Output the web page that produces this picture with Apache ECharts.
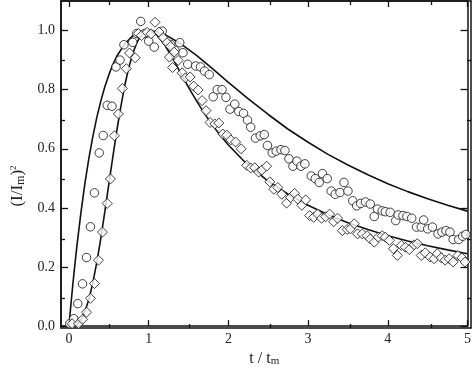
<!DOCTYPE html>
<html>
<head>
<meta charset="utf-8">
<script src="https://cdn.jsdelivr.net/npm/echarts@6/dist/echarts.min.js"></script>
<style>html,body{margin:0;padding:0;background:#fff}#c{width:474px;height:372px}</style>
</head>
<body>
<div id="c"></div>
<script>
// ---- data ----
const xTickLabels = [0, 1, 2, 3, 4, 5];
const xMinorTicks = [0.5, 1.5, 2.5, 3.5, 4.5];
const yTickLabels = [0, 0.2, 0.4, 0.6, 0.8, 1.0];
const yMinorTicks = [0.1, 0.3, 0.5, 0.7, 0.9];

// upper solid curve
const curveFast = [
  [0,0],[0.01,0.031],[0.02,0.060],[0.03,0.089],[0.05,0.145],[0.07,0.198],[0.1,0.272],[0.15,0.384],
  [0.2,0.483],[0.25,0.568],[0.3,0.642],[0.35,0.707],[0.4,0.762],[0.45,0.810],[0.5,0.850],[0.55,0.885],
  [0.6,0.913],[0.7,0.955],[0.8,0.982],[0.9,0.996],[1.0,1.000],[1.1,0.996],[1.2,0.987],[1.4,0.956],
  [1.6,0.916],[1.8,0.871],[2.0,0.825],[2.25,0.769],[2.5,0.716],[2.75,0.666],[3.0,0.622],[3.25,0.581],
  [3.5,0.545],[3.75,0.512],[4.0,0.482],[4.25,0.455],[4.5,0.431],[4.75,0.409],[5.0,0.389]
];
// lower solid curve
const curveSlow = [
  [0,0],[0.05,0.0004],[0.1,0.0065],[0.15,0.021],[0.2,0.049],[0.25,0.091],[0.3,0.147],[0.35,0.217],
  [0.4,0.298],[0.45,0.387],[0.5,0.480],[0.55,0.572],[0.6,0.661],[0.65,0.742],[0.7,0.814],[0.75,0.874],
  [0.8,0.922],[0.85,0.958],[0.9,0.982],[0.95,0.996],[1.0,1.000],[1.1,0.986],[1.2,0.952],[1.3,0.907],
  [1.4,0.857],[1.5,0.808],[1.6,0.762],[1.7,0.719],[1.8,0.680],[1.9,0.645],[2.0,0.613],[2.2,0.557],
  [2.5,0.490],[2.75,0.446],[3.0,0.409],[3.25,0.377],[3.5,0.350],[3.75,0.327],[4.0,0.306],[4.25,0.288],
  [4.5,0.272],[4.75,0.258],[5.0,0.245]
];
// circles
const circles = [
  [0.01,0.008],[0.06,0.025],[0.11,0.076],[0.17,0.143],[0.22,0.232],[0.27,0.336],[0.32,0.451],[0.38,0.586],
  [0.43,0.645],[0.48,0.747],[0.54,0.744],[0.59,0.877],[0.64,0.90],[0.69,0.952],[0.80,0.96],[0.85,0.99],
  [0.90,1.031],[0.95,0.99],[1.0,0.964],[1.07,0.944],[1.17,0.998],
  [1.275,0.953],[1.33,0.933],[1.39,0.959],[1.43,0.925],[1.49,0.886],[1.59,0.88],[1.65,0.877],[1.70,0.863],
  [1.76,0.851],[1.81,0.776],[1.86,0.80],[1.92,0.80],[1.97,0.774],[2.02,0.734],[2.08,0.751],[2.13,0.726],
  [2.19,0.72],[2.24,0.697],[2.28,0.673],[2.34,0.636],[2.40,0.644],[2.45,0.648],[2.49,0.611],[2.55,0.586],
  [2.60,0.592],[2.66,0.597],[2.71,0.594],[2.76,0.566],[2.81,0.541],[2.86,0.558],[2.91,0.541],[2.96,0.549],
  [3.04,0.508],[3.09,0.499],[3.14,0.486],[3.18,0.516],[3.24,0.499],[3.29,0.457],[3.34,0.446],[3.40,0.452],
  [3.45,0.486],[3.50,0.457],[3.56,0.424],[3.61,0.407],[3.66,0.415],[3.72,0.42],[3.78,0.413],[3.83,0.371],
  [3.87,0.396],[3.93,0.39],[3.97,0.387],[4.03,0.385],[4.10,0.357],[4.13,0.376],[4.19,0.374],[4.24,0.371],
  [4.30,0.365],[4.36,0.335],[4.42,0.335],[4.45,0.359],[4.50,0.329],[4.56,0.335],[4.63,0.312],[4.68,0.318],
  [4.73,0.323],[4.78,0.318],[4.82,0.293],[4.89,0.293],[4.94,0.304],[4.98,0.31]
];
// diamonds
const diamonds = [
  [0.04,0.008],[0.12,0.008],[0.17,0.023],[0.22,0.047],[0.27,0.094],[0.32,0.144],[0.37,0.223],[0.42,0.318],
  [0.48,0.415],[0.52,0.498],[0.57,0.644],[0.62,0.718],[0.67,0.804],[0.72,0.871],[0.76,0.924],[0.83,0.908],
  [0.87,0.99],[0.91,0.983],[0.98,0.994],[1.03,0.989],[1.08,1.028],
  [1.13,0.995],[1.18,0.976],[1.23,0.959],[1.275,0.946],[1.32,0.927],[1.26,0.91],[1.37,0.899],[1.30,0.875],
  [1.42,0.857],[1.46,0.84],[1.52,0.843],[1.565,0.812],[1.62,0.799],[1.67,0.763],[1.72,0.729],[1.77,0.689],
  [1.83,0.684],[1.88,0.687],[1.93,0.65],[1.98,0.646],[2.03,0.63],[2.09,0.623],[2.16,0.60],[2.23,0.544],
  [2.28,0.535],[2.33,0.536],[2.38,0.521],[2.42,0.528],[2.48,0.541],[2.52,0.488],[2.57,0.463],[2.62,0.469],
  [2.67,0.446],[2.73,0.416],[2.78,0.435],[2.83,0.449],[2.87,0.43],[2.92,0.409],[2.97,0.427],[3.02,0.374],
  [3.07,0.368],[3.12,0.379],[3.17,0.365],[3.22,0.37],[3.27,0.379],[3.32,0.353],[3.37,0.365],[3.43,0.323],
  [3.49,0.327],[3.53,0.329],[3.58,0.346],[3.62,0.312],[3.68,0.312],[3.74,0.306],[3.78,0.295],[3.83,0.284],
  [3.88,0.301],[3.93,0.306],[3.97,0.301],[4.02,0.29],[4.07,0.262],[4.12,0.239],[4.17,0.273],[4.22,0.267],
  [4.27,0.259],[4.33,0.275],[4.37,0.279],[4.42,0.239],[4.47,0.248],[4.53,0.234],[4.58,0.228],[4.62,0.245],
  [4.67,0.231],[4.72,0.223],[4.77,0.228],[4.82,0.217],[4.88,0.239],[4.93,0.231],[4.97,0.217]
];

// ---- chart ----
const FONT = '"Liberation Serif", "DejaVu Serif", serif';
const X_MIN = -0.1, X_MAX = 5, Y_MIN = 0, Y_MAX = 1.1;
const GRID = { left: 61, right: 3, top: 1, bottom: 44, containLabel: false };
const LINE = { show: true, onZero: false, lineStyle: { color: '#111', width: 1.5 } };
const TICKSTYLE = { color: '#111', width: 1.3 };

function xAxis(grid, pos, ticks, len, labels) {
  return {
    gridIndex: grid, type: 'value', position: pos, min: X_MIN, max: X_MAX,
    axisLine: LINE, splitLine: { show: false },
    axisTick: { show: true, inside: true, length: len, customValues: ticks, lineStyle: TICKSTYLE },
    axisLabel: labels ? { show: true, customValues: ticks, margin: 6, fontFamily: FONT, fontSize: 14, color: '#222' } : { show: false },
    name: labels ? 't / t{sub|m}' : '',
    nameLocation: 'middle', nameGap: 15,
    nameTextStyle: { fontFamily: FONT, fontSize: 16, color: '#222',
      rich: { sub: { fontFamily: FONT, fontSize: 11, color: '#222', lineHeight: 11, verticalAlign: 'bottom' } } }
  };
}
function yAxis(grid, pos, ticks, len, labels) {
  return {
    gridIndex: grid, type: 'value', position: pos, min: Y_MIN, max: Y_MAX,
    axisLine: LINE, splitLine: { show: false },
    axisTick: { show: true, inside: true, length: len, customValues: ticks, lineStyle: TICKSTYLE },
    axisLabel: labels ? { show: true, customValues: ticks, margin: 6, fontFamily: FONT, fontSize: 14, color: '#222',
      formatter: v => v.toFixed(1) } : { show: false }
  };
}

const chart = echarts.init(document.getElementById('c'), null, { renderer: 'canvas' });
chart.setOption({
  animation: false,
  backgroundColor: '#fff',
  grid: [GRID, GRID],
  xAxis: [
    xAxis(0, 'bottom', xTickLabels, 6, true),
    xAxis(0, 'top', xTickLabels, 6, false),
    xAxis(1, 'bottom', xMinorTicks, 4, false),
    xAxis(1, 'top', xMinorTicks, 4, false)
  ],
  yAxis: [
    yAxis(0, 'left', yTickLabels, 7, true),
    yAxis(0, 'right', yTickLabels, 7, false),
    yAxis(1, 'left', yMinorTicks, 4, false),
    yAxis(1, 'right', yMinorTicks, 4, false)
  ],
  graphic: [{
    type: 'text', x: 18, y: 186, rotation: Math.PI / 2,
    style: {
      text: '(I/I{sub|m}){sup|2}', align: 'center', verticalAlign: 'middle',
      fontFamily: FONT, fontSize: 17, fill: '#222',
      rich: {
        sub: { fontFamily: FONT, fontSize: 12, fill: '#222', lineHeight: 12, verticalAlign: 'bottom' },
        sup: { fontFamily: FONT, fontSize: 9, fill: '#222', lineHeight: 9, verticalAlign: 'top' }
      }
    }
  }],
  series: [
    { type: 'line', data: curveFast, xAxisIndex: 0, yAxisIndex: 0, showSymbol: false, smooth: false,
      lineStyle: { color: '#111', width: 1.6 }, z: 2 },
    { type: 'line', data: curveSlow, xAxisIndex: 0, yAxisIndex: 0, showSymbol: false, smooth: false,
      lineStyle: { color: '#111', width: 1.6 }, z: 2 },
    { type: 'scatter', data: circles, xAxisIndex: 0, yAxisIndex: 0, symbol: 'circle', symbolSize: 8.5,
      itemStyle: { color: '#fff', borderColor: '#111', borderWidth: 1 }, z: 3 },
    { type: 'scatter', data: diamonds, xAxisIndex: 0, yAxisIndex: 0, symbol: 'diamond', symbolSize: 10,
      itemStyle: { color: '#fff', borderColor: '#111', borderWidth: 1 }, z: 4 },
    { type: 'scatter', data: [], xAxisIndex: 2, yAxisIndex: 2 }
  ]
});
</script>
</body>
</html>
